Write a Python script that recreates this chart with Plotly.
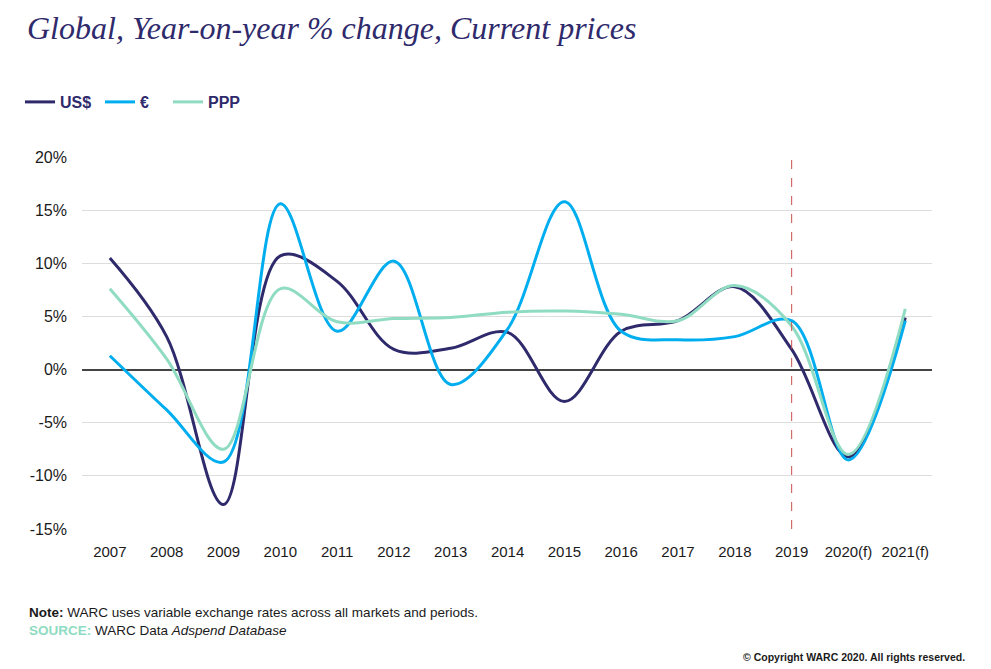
import plotly.graph_objects as go

years = ["2007", "2008", "2009", "2010", "2011", "2012", "2013", "2014",
         "2015", "2016", "2017", "2018", "2019", "2020(f)", "2021(f)"]
usd = [10.5, 3.1, -12.7, 10.7, 8.3, 1.9, 2.0, 3.5, -3.0, 3.6, 4.6, 7.8, 1.9, -8.2, 4.9]
eur = [1.3, -3.8, -8.7, 15.6, 3.6, 10.2, -1.4, 3.8, 15.8, 3.6, 2.8, 3.1, 4.6, -8.5, 4.6]
ppp = [7.6, 1.0, -7.5, 7.6, 4.5, 4.8, 4.9, 5.4, 5.5, 5.2, 4.6, 7.9, 4.1, -8.0, 5.7]
y_ticks = [-15, -10, -5, 0, 5, 10, 15, 20]
y_ticktext = [f"{v}%" for v in y_ticks]
forecast_start = "2019"

NAVY = "#2F2A6B"
BLUE = "#00AEEF"
MINT = "#8FDCC2"

xi = list(range(len(years)))
L, R, T, B = 82, 59, 157, 140
PW = 991 - L - R
PH = 669 - T - B

def px_x(p):
    return (p - L) / PW

def px_y(p):
    return (669 - B - p) / PH

fig = go.Figure()
series = [("US$", usd, NAVY, "legend", 20), ("€", eur, BLUE, "legend2", 100),
          ("PPP", ppp, MINT, "legend3", 168)]
for name, vals, col, lg, _ in series:
    fig.add_trace(go.Scatter(
        x=xi, y=vals, name=f"<b>{name}</b>", mode="lines", legend=lg,
        line=dict(color=col, width=3, shape="spline", smoothing=1.0),
        hoverinfo="skip"))

fig.add_shape(type="line", xref="x", yref="paper",
              x0=years.index(forecast_start), x1=years.index(forecast_start),
              y0=0, y1=1, line=dict(color="#C9504F", width=1, dash="dash"))

legend_font = dict(size=16, color=NAVY, family="Liberation Sans, Arial, sans-serif")
legends = {}
for i, (_, _, _, lg, lx) in enumerate(series):
    legends[lg] = dict(orientation="h", x=px_x(lx), xanchor="left", y=px_y(85),
                       yanchor="top", font=legend_font, itemwidth=30,
                       bgcolor="rgba(0,0,0,0)")

fig.update_layout(
    width=991, height=669,
    margin=dict(l=L, r=R, t=T, b=B, autoexpand=False),
    paper_bgcolor="white", plot_bgcolor="white",
    font=dict(family="Liberation Sans, Arial, sans-serif", color="#1a1a1a", size=15),
    title=dict(text="<i>Global, Year-on-year % change, Current prices</i>",
               x=27 / 991, xanchor="left", y=1 - 17 / 669, yanchor="top",
               font=dict(family="Liberation Serif, Times New Roman, serif",
                         size=32, color=NAVY)),
    showlegend=True,
    xaxis=dict(range=[-0.49, 14.47], tickmode="array", tickvals=xi, ticktext=years,
               showgrid=False, zeroline=False, showline=False, ticks="",
               ticklabelstandoff=12, automargin=False,
               tickfont=dict(size=15, color="#1a1a1a")),
    yaxis=dict(range=[-15, 20], tickmode="array", tickvals=y_ticks, ticktext=y_ticktext,
               showgrid=True, gridcolor="#DDDDDD", gridwidth=1,
               zeroline=True, zerolinecolor="#444444", zerolinewidth=1.5,
               showline=False, ticks="", ticklabelstandoff=14, automargin=False,
               tickfont=dict(size=16, color="#1a1a1a")),
    **legends,
)

fig.add_annotation(xref="paper", yref="paper", x=px_x(27), y=px_y(612), xanchor="left", yanchor="middle",
                   showarrow=False,
                   text="<b>Note:</b> WARC uses variable exchange rates across all markets and periods.",
                   font=dict(size=13.5, color="#1a1a1a"))
fig.add_annotation(xref="paper", yref="paper", x=px_x(27), y=px_y(630), xanchor="left", yanchor="middle",
                   showarrow=False,
                   text=f"<b><span style='color:{MINT}'>SOURCE:</span></b> WARC Data <i>Adspend Database</i>",
                   font=dict(size=13.5, color="#1a1a1a"))
fig.add_annotation(xref="paper", yref="paper", x=px_x(967), y=px_y(657), xanchor="right", yanchor="middle",
                   showarrow=False,
                   text="<b>© Copyright WARC 2020. All rights reserved.</b>",
                   font=dict(size=10.5, color="#1a1a1a"))

fig.write_html("out.html", config={"displayModeBar": False},
               post_script="document.body.style.margin='0';")
